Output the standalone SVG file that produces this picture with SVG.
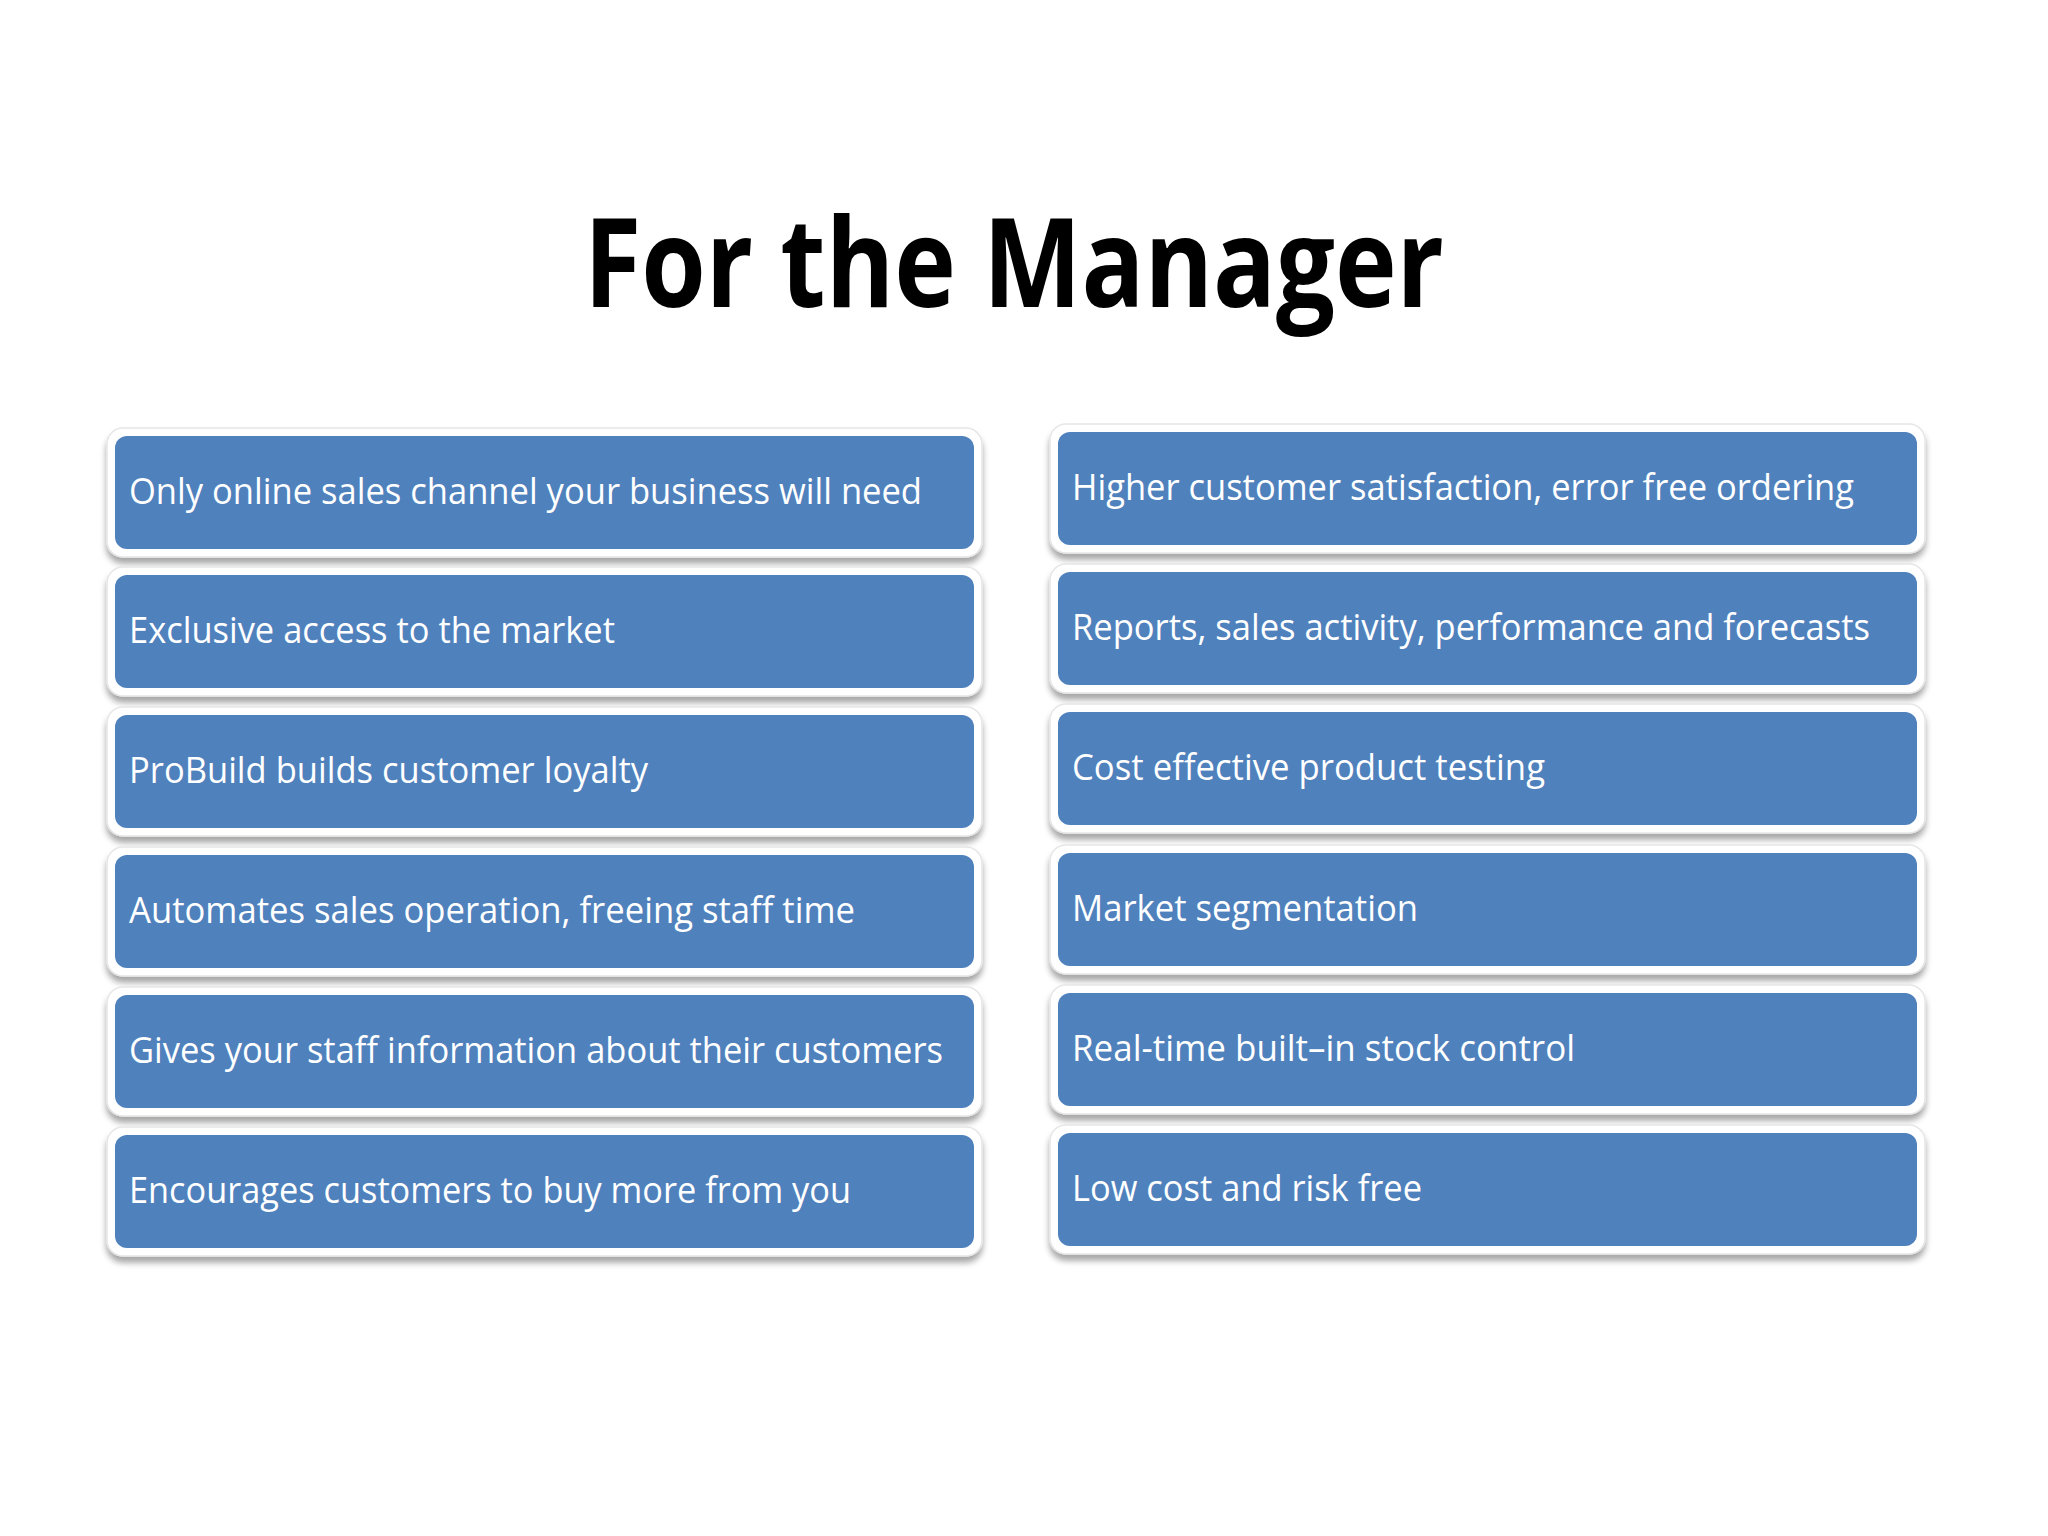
<svg xmlns="http://www.w3.org/2000/svg" width="2048" height="1536" viewBox="0 0 2048 1536">
<defs>
<filter id="sh" x="-5%" y="-20%" width="110%" height="150%"><feGaussianBlur in="SourceAlpha" stdDeviation="3"/><feOffset dy="6"/><feComponentTransfer><feFuncA type="linear" slope="0.35"/></feComponentTransfer><feMerge><feMergeNode/><feMergeNode in="SourceGraphic"/></feMerge></filter>
<g id="cardL"><rect x="-8" y="-8" width="875" height="129" rx="16" fill="#fff" stroke="#e6e6e6" stroke-width="1.5" filter="url(#sh)"/><rect x="0" y="0" width="859" height="113" rx="12" fill="#4F81BD"/></g>
</defs>
<style>
.t{font-family:"Open Sans","Liberation Sans",sans-serif;font-size:36px;fill:#fff}
</style>
<rect width="2048" height="1536" fill="#fff"/>
<text x="1014" y="307" text-anchor="middle" font-family="'Open Sans','Liberation Sans',sans-serif" font-weight="bold" font-size="124" textLength="860" lengthAdjust="spacingAndGlyphs" fill="#000">For the Manager</text>
<g id="connectors"/>
<g id="l1" transform="translate(115,436)"><use href="#cardL"/><text class="t" x="14" y="68" textLength="793" lengthAdjust="spacingAndGlyphs">Only online sales channel your business will need</text></g>
<g id="l2" transform="translate(115,575)"><use href="#cardL"/><text class="t" x="14" y="68" textLength="486" lengthAdjust="spacingAndGlyphs">Exclusive access to the market</text></g>
<g id="l3" transform="translate(115,715)"><use href="#cardL"/><text class="t" x="14" y="68" textLength="519" lengthAdjust="spacingAndGlyphs">ProBuild builds customer loyalty</text></g>
<g id="l4" transform="translate(115,855)"><use href="#cardL"/><text class="t" x="14" y="68" textLength="726" lengthAdjust="spacingAndGlyphs">Automates sales operation, freeing staff time</text></g>
<g id="l5" transform="translate(115,995)"><use href="#cardL"/><text class="t" x="14" y="68" textLength="814" lengthAdjust="spacingAndGlyphs">Gives your staff information about their customers</text></g>
<g id="l6" transform="translate(115,1135)"><use href="#cardL"/><text class="t" x="14" y="68" textLength="722" lengthAdjust="spacingAndGlyphs">Encourages customers to buy more from you</text></g>
<g id="r1" transform="translate(1058,432)"><use href="#cardL"/><text class="t" x="14" y="68" textLength="782" lengthAdjust="spacingAndGlyphs">Higher customer satisfaction, error free ordering</text></g>
<g id="r2" transform="translate(1058,572)"><use href="#cardL"/><text class="t" x="14" y="68" textLength="798" lengthAdjust="spacingAndGlyphs">Reports, sales activity, performance and forecasts</text></g>
<g id="r3" transform="translate(1058,712)"><use href="#cardL"/><text class="t" x="14" y="68" textLength="473" lengthAdjust="spacingAndGlyphs">Cost effective product testing</text></g>
<g id="r4" transform="translate(1058,853)"><use href="#cardL"/><text class="t" x="14" y="68" textLength="346" lengthAdjust="spacingAndGlyphs">Market segmentation</text></g>
<g id="r5" transform="translate(1058,993)"><use href="#cardL"/><text class="t" x="14" y="68" textLength="503" lengthAdjust="spacingAndGlyphs">Real-time built–in stock control</text></g>
<g id="r6" transform="translate(1058,1133)"><use href="#cardL"/><text class="t" x="14" y="68" textLength="350" lengthAdjust="spacingAndGlyphs">Low cost and risk free</text></g>
</svg>
